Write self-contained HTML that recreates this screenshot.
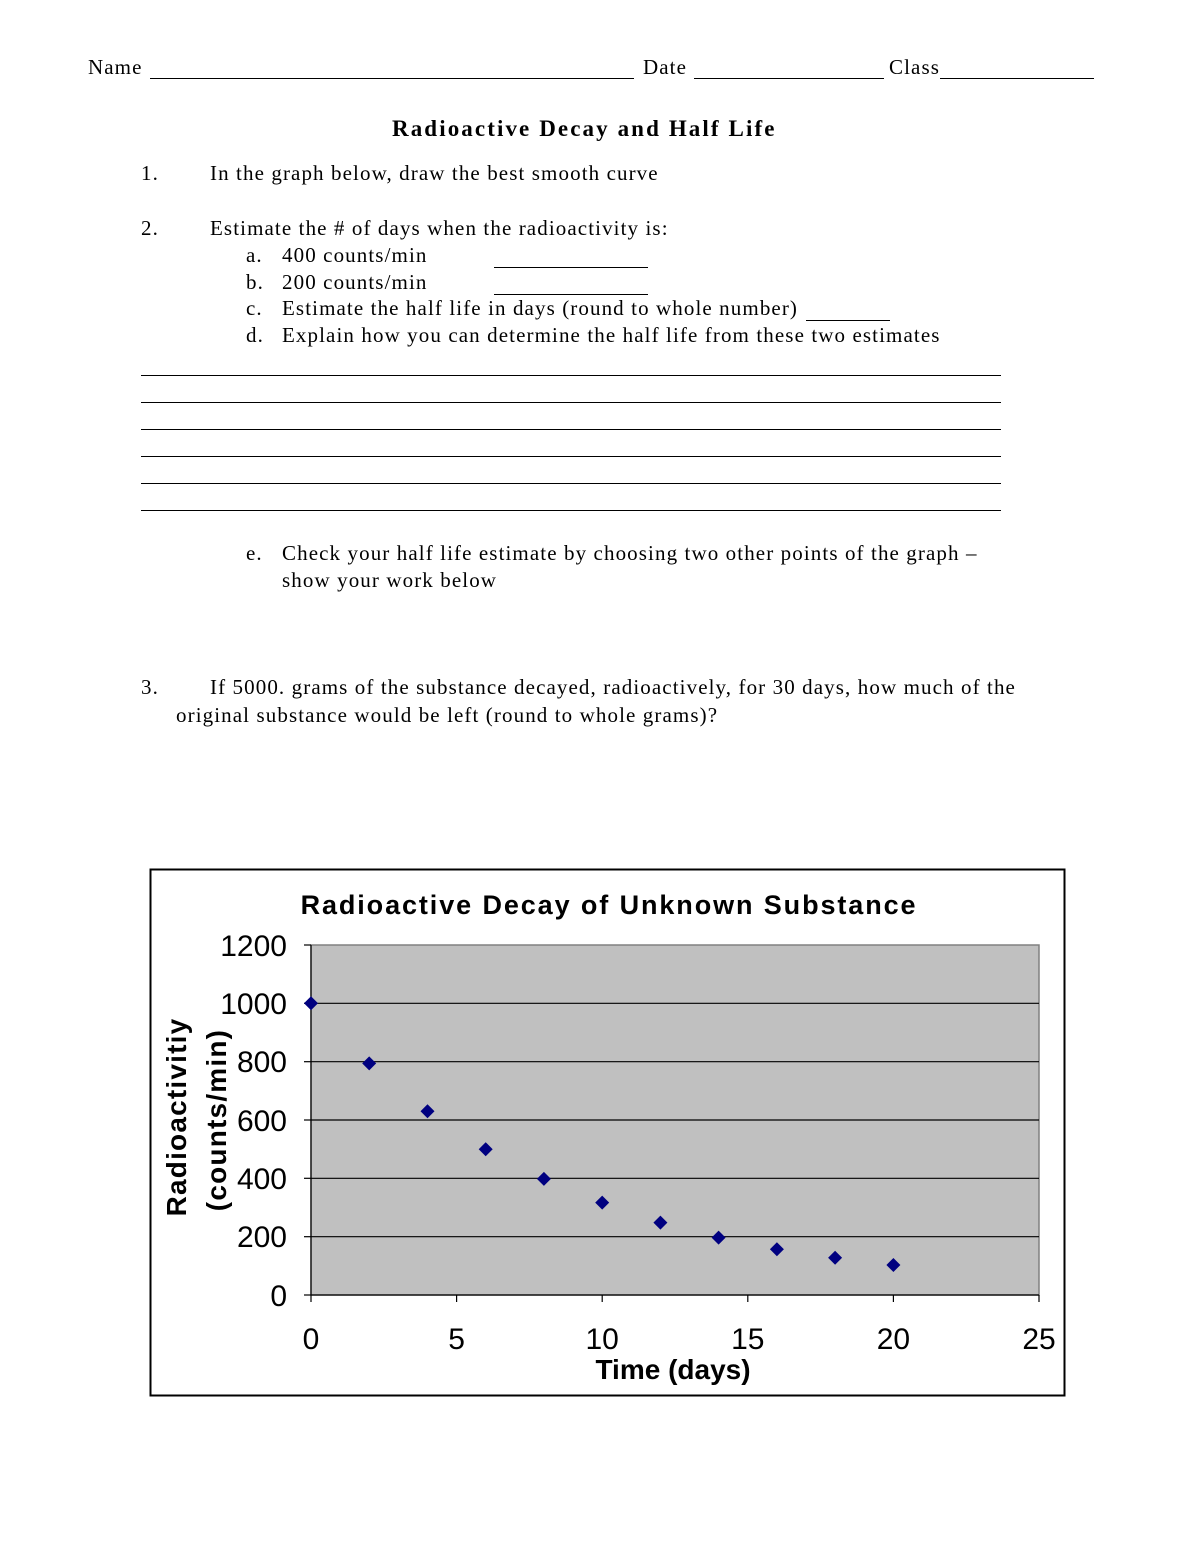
<!DOCTYPE html>
<html><head><meta charset="utf-8"><style>
body{margin:0;width:1200px;height:1553px;background:#fff;position:relative;font-family:"Liberation Serif",serif;font-size:21px;color:#000}
.t{position:absolute;white-space:nowrap;line-height:1;letter-spacing:1.1px}
.ul{position:absolute;border-top:1px solid #000;height:0}
</style></head><body>
<div class="t" style="left:88px;top:57px">Name</div><div class="ul" style="left:150px;top:78px;width:484px"></div>
<div class="t" style="left:643px;top:57px">Date</div><div class="ul" style="left:694px;top:78px;width:190px"></div>
<div class="t" style="left:889px;top:57px">Class</div><div class="ul" style="left:940px;top:78px;width:154px"></div>
<div class="t" style="left:392px;top:117px;font-weight:bold;font-size:23px;letter-spacing:2.1px">Radioactive Decay and Half Life</div>
<div class="t" style="left:141px;top:163px">1.</div><div class="t" style="left:210px;top:163px">In the graph below, draw the best smooth curve</div>
<div class="t" style="left:141px;top:218px">2.</div><div class="t" style="left:210px;top:218px">Estimate the # of days when the radioactivity is:</div>
<div class="t" style="left:246px;top:245px">a.</div><div class="t" style="left:282px;top:245px">400 counts/min</div><div class="ul" style="left:494px;top:267px;width:154px"></div>
<div class="t" style="left:246px;top:272px">b.</div><div class="t" style="left:282px;top:272px">200 counts/min</div><div class="ul" style="left:494px;top:294px;width:154px"></div>
<div class="t" style="left:246px;top:298px">c.</div><div class="t" style="left:282px;top:298px">Estimate the half life in days (round to whole number)</div><div class="ul" style="left:806px;top:320px;width:84px"></div>
<div class="t" style="left:246px;top:325px">d.</div><div class="t" style="left:282px;top:325px">Explain how you can determine the half life from these two estimates</div>
<div class="ul" style="left:141px;top:375px;width:860px"></div>
<div class="ul" style="left:141px;top:402px;width:860px"></div>
<div class="ul" style="left:141px;top:429px;width:860px"></div>
<div class="ul" style="left:141px;top:456px;width:860px"></div>
<div class="ul" style="left:141px;top:483px;width:860px"></div>
<div class="ul" style="left:141px;top:510px;width:860px"></div>
<div class="t" style="left:246px;top:543px">e.</div><div class="t" style="left:282px;top:543px">Check your half life estimate by choosing two other points of the graph –</div>
<div class="t" style="left:282px;top:570px">show your work below</div>
<div class="t" style="left:141px;top:677px">3.</div><div class="t" style="left:210px;top:677px">If 5000. grams of the substance decayed, radioactively, for 30 days, how much of the</div>
<div class="t" style="left:176px;top:705px">original substance would be left (round to whole grams)?</div>
<svg style="position:absolute;left:0;top:0" width="1200" height="1553" font-family="Liberation Sans, sans-serif">
<rect x="150.5" y="869.5" width="914" height="526" fill="#fff" stroke="#000" stroke-width="2"/>
<text x="609" y="914" text-anchor="middle" font-size="27" font-weight="bold" letter-spacing="1.9">Radioactive Decay of Unknown Substance</text>
<rect x="311" y="945" width="728" height="350" fill="#c0c0c0" stroke="#808080" stroke-width="1.5"/>
<g stroke="#000" stroke-width="1.2">
<line x1="311" y1="1003.3" x2="1039" y2="1003.3"/><line x1="311" y1="1061.7" x2="1039" y2="1061.7"/><line x1="311" y1="1120" x2="1039" y2="1120"/><line x1="311" y1="1178.3" x2="1039" y2="1178.3"/><line x1="311" y1="1236.7" x2="1039" y2="1236.7"/>
<line x1="311" y1="945" x2="311" y2="1295"/><line x1="311" y1="1295" x2="1039" y2="1295"/>
<line x1="304" y1="945" x2="311" y2="945"/><line x1="304" y1="1003.3" x2="311" y2="1003.3"/><line x1="304" y1="1061.7" x2="311" y2="1061.7"/><line x1="304" y1="1120" x2="311" y2="1120"/><line x1="304" y1="1178.3" x2="311" y2="1178.3"/><line x1="304" y1="1236.7" x2="311" y2="1236.7"/><line x1="304" y1="1295" x2="311" y2="1295"/>
<line x1="311" y1="1295" x2="311" y2="1302"/><line x1="456.6" y1="1295" x2="456.6" y2="1302"/><line x1="602.2" y1="1295" x2="602.2" y2="1302"/><line x1="747.8" y1="1295" x2="747.8" y2="1302"/><line x1="893.4" y1="1295" x2="893.4" y2="1302"/><line x1="1039" y1="1295" x2="1039" y2="1302"/>
</g>
<g font-size="30" text-anchor="end">
<text x="287" y="956">1200</text><text x="287" y="1014">1000</text><text x="287" y="1072">800</text><text x="287" y="1131">600</text><text x="287" y="1189">400</text><text x="287" y="1247">200</text><text x="287" y="1306">0</text>
</g>
<g font-size="30" text-anchor="middle">
<text x="311" y="1349">0</text><text x="456.6" y="1349">5</text><text x="602.2" y="1349">10</text><text x="747.8" y="1349">15</text><text x="893.4" y="1349">20</text><text x="1039" y="1349">25</text>
</g>
<text x="673" y="1379" text-anchor="middle" font-size="28" font-weight="bold">Time (days)</text>
<text transform="translate(186,1117) rotate(-90)" text-anchor="middle" font-size="28" font-weight="bold" letter-spacing="1.2">Radioactivitiy</text>
<text transform="translate(226,1120) rotate(-90)" text-anchor="middle" font-size="28" font-weight="bold" letter-spacing="1.2">(counts/min)</text>
<g fill="#000080">
<path d="M311 996.3l7 7-7 7-7-7z"/>
<path d="M369.2 1056.4l7 7-7 7-7-7z"/>
<path d="M427.5 1104.2l7 7-7 7-7-7z"/>
<path d="M485.7 1142.2l7 7-7 7-7-7z"/>
<path d="M543.9 1171.9l7 7-7 7-7-7z"/>
<path d="M602.2 1195.6l7 7-7 7-7-7z"/>
<path d="M660.4 1215.6l7 7-7 7-7-7z"/>
<path d="M718.6 1230.6l7 7-7 7-7-7z"/>
<path d="M776.9 1242.3l7 7-7 7-7-7z"/>
<path d="M835.1 1250.7l7 7-7 7-7-7z"/>
<path d="M893.4 1258l7 7-7 7-7-7z"/>
</g>
</svg>
</body></html>
